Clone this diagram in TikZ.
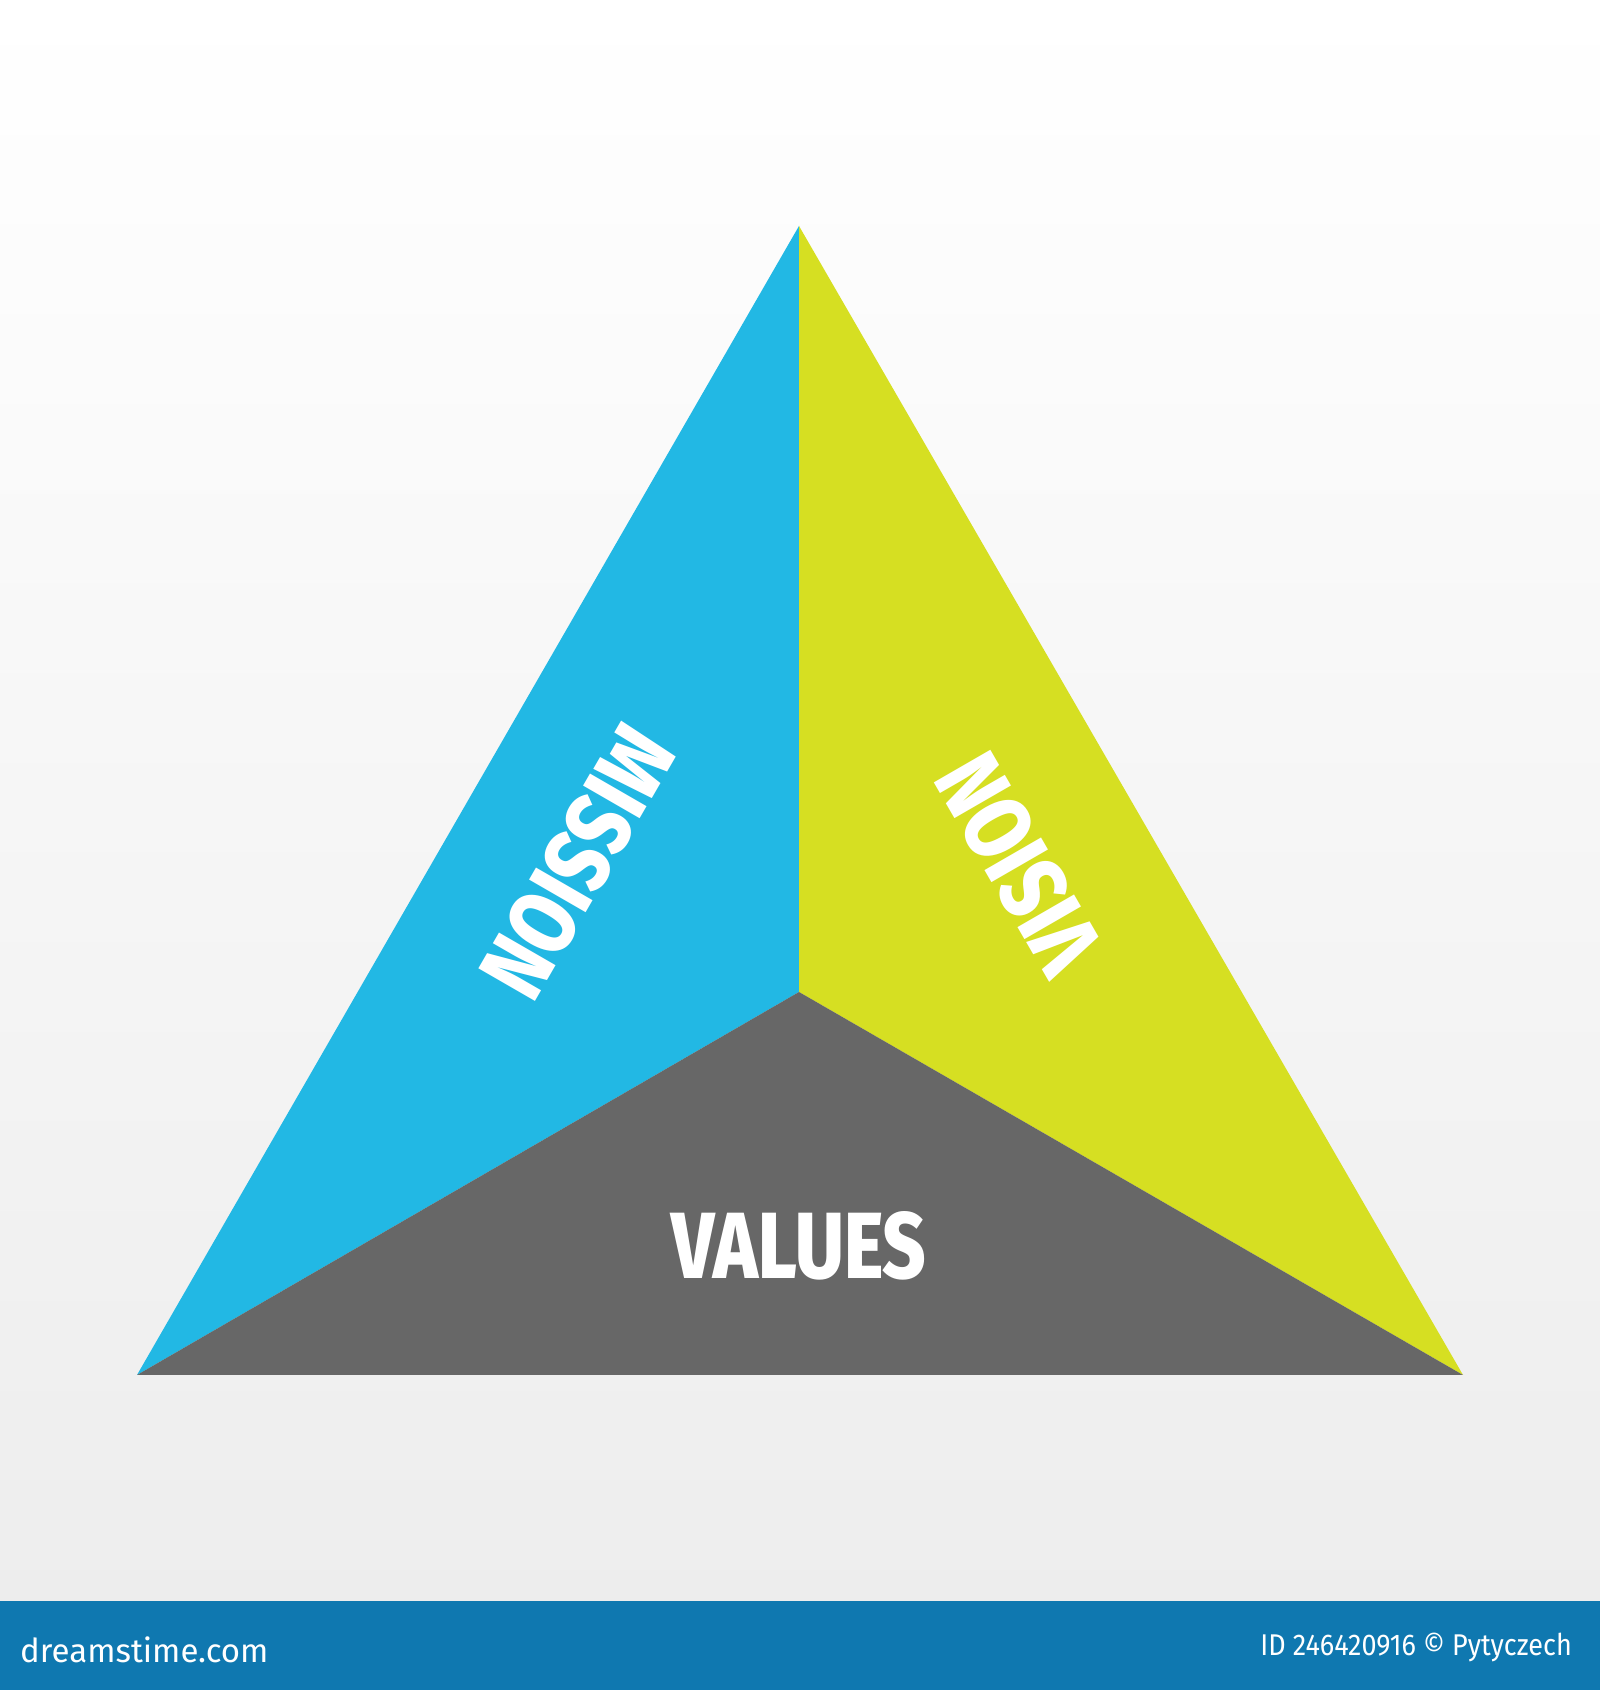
\documentclass[tikz,border=0pt]{standalone}
\usepackage{fontspec}
\setmainfont{Fira Sans}
\newfontfamily\boldcond{Fira Sans ExtraBold}
\definecolor{mblue}{HTML}{22B8E4}
\definecolor{vgreen}{HTML}{D6DF22}
\definecolor{vgray}{HTML}{676767}
\definecolor{barblue}{HTML}{0F78B0}
\tikzset{
  label/.style={text=white, inner sep=0pt, font=\boldcond\fontsize{94}{94}\selectfont},
  barlabel/.style={text=white, inner sep=0pt}
}
\begin{document}
\begin{tikzpicture}[x=1pt,y=1pt]
\useasboundingbox (0,0) rectangle (1600,1690);
\shade[top color=white, bottom color=black!7] (0,89) rectangle (1600,1690);
\fill[barblue] (0,0) rectangle (1600,89);
\coordinate (apex) at (799,1464);
\coordinate (bl) at (137,315);
\coordinate (br) at (1463,315);
\coordinate (c) at (799,698);
\fill[mblue] (apex) -- (c) -- (bl) -- cycle;
\fill[vgreen] (apex) -- (br) -- (c) -- cycle;
\fill[vgray] (bl) -- (c) -- (br) -- cycle;
\node[label, rotate=-120] (mission) at (578,828) {\scalebox{0.8}[1]{MISSION}};
\node[label, rotate=120] (vision) at (1019,826) {\scalebox{0.8}[1]{VISION}};
\node[label] (values) at (799,444) {\scalebox{0.8}[1]{VALUES}};
\node[barlabel, anchor=west, font=\fontsize{33}{33}\selectfont] (site) at (20,40) {dreamstime.com};
\node[barlabel, anchor=east, font=\fontsize{30}{30}\selectfont] (id) at (1572,43) {\scalebox{0.9}[1]{ID 246420916 © Pytyczech}};
\end{tikzpicture}
\end{document}
